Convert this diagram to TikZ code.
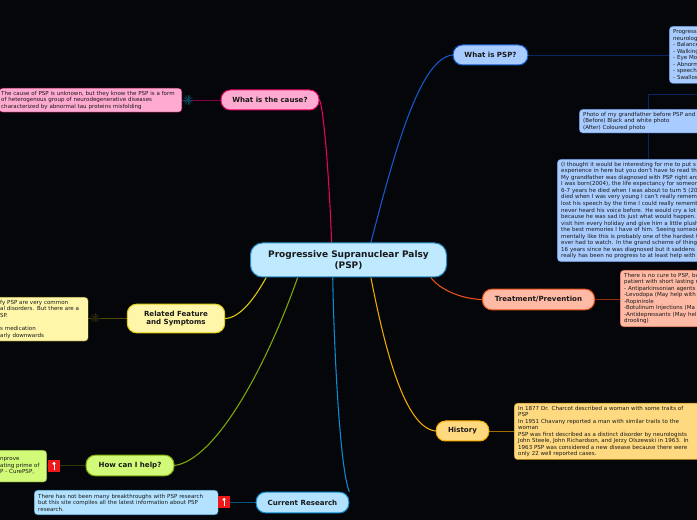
\documentclass[tikz,border=0pt]{standalone}
\usepackage{fontspec}
\setmainfont{DejaVu Sans}
\usetikzlibrary{backgrounds}

\tikzset{
  topic/.style={draw, line width=0.75pt, rounded corners=7pt, inner sep=0pt, align=center, text=black!90, font=\fontsize{5.3}{6.4}\selectfont\bfseries},
  note/.style={draw, line width=0.3pt, rounded corners=2.5pt, anchor=north west, inner xsep=3pt, inner ysep=2pt, align=left, text=black!90, font=\fontsize{4.15}{4.9}\selectfont},
  link/.style={line width=0.8pt},
  stub/.style={line width=0.7pt},
  flagmark/.style={fill=flagred, minimum size=8.5pt, inner sep=0pt},
  burst/.style={minimum size=7pt, inner sep=0pt}
}

\begin{document}
\begin{tikzpicture}[x=0.75pt, y=-0.75pt]
  % Define colors
  \definecolor{nightbg}{RGB}{4,6,9}
  \definecolor{flagred}{RGB}{240,25,25}
  \definecolor{skyfill}{RGB}{190,233,255}
  \definecolor{skyline}{RGB}{42,140,200}
  \definecolor{bluefill}{RGB}{168,204,255}
  \definecolor{blueline}{RGB}{20,90,205}
  \definecolor{bluedark}{RGB}{8,38,100}
  \definecolor{pinkfill}{RGB}{255,170,208}
  \definecolor{pinkline}{RGB}{235,0,100}
  \definecolor{pinkdark}{RGB}{135,0,65}
  \definecolor{salmonfill}{RGB}{255,186,165}
  \definecolor{salmonline}{RGB}{235,80,30}
  \definecolor{salmondark}{RGB}{150,45,15}
  \definecolor{goldfill}{RGB}{255,217,128}
  \definecolor{goldline}{RGB}{245,170,0}
  \definecolor{golddark}{RGB}{160,110,0}
  \definecolor{creamfill}{RGB}{255,246,170}
  \definecolor{creamline}{RGB}{225,205,20}
  \definecolor{creamdark}{RGB}{85,75,5}
  \definecolor{limefill}{RGB}{208,250,120}
  \definecolor{limeline}{RGB}{125,170,10}
  \definecolor{limedark}{RGB}{45,60,5}
  \definecolor{icefill}{RGB}{178,226,255}
  \definecolor{iceline}{RGB}{10,140,210}
  \definecolor{icedark}{RGB}{8,85,125}
  \definecolor{burstteal}{RGB}{12,72,95}
  \definecolor{burstolive}{RGB}{45,40,8}

  \useasboundingbox (0,0) rectangle (697,520);
  \clip (0,0) rectangle (697,520);

  % Central topic
  \node[topic, draw=skyline, fill=skyfill, minimum width=147pt, minimum height=25.5pt, rounded corners=9pt, font=\fontsize{6.75}{8}\selectfont\bfseries] (central) at (348.5,260) {Progressive Supranuclear Palsy\\(PSP)};

  % What is PSP?
  \node[topic, draw=blueline, fill=bluefill, minimum width=56pt, minimum height=15pt] (whatpsp) at (490.5,55) {What is PSP?};
  \node[note, draw=bluedark, fill=bluefill, text width=150pt, minimum height=43pt] (pspnote) at (669,26) {Progressive Supranuclear Palsy is a\\neurological disorder\\- Balance\\- Walking\\- Eye Movement\\- Abnormal\\- speech\\- Swallowing};
  \node[note, draw=bluedark, fill=bluefill, text width=150pt, minimum height=18pt] (photonote) at (579,109) {Photo of my grandfather before PSP and\\(Before) Black and white photo\\(After) Coloured photo};
  \node[note, draw=bluedark, fill=bluefill, text width=150pt, minimum height=77pt] (storynote) at (557,159) {(I thought it would be interesting for me to put s\\experience in here but you don't have to read thi\\My grandfather was diagnosed with PSP right aro\\I was born(2004), the life expectancy for someor\\6-7 years he died when I was about to turn 5 (20\\died when I was very young I can't really remem\\lost his speech by the time I could really rememb\\never heard his voice before. He would cry a lot a\\because he was sad its just what would happen.\\visit him every holiday and give him a little plush\\the best memories I have of him. Seeing someon\\mentally like this is probably one of the hardest t\\ever had to watch. In the grand scheme of things\\16 years since he was diagnosed but it saddens r\\really has been no progress to at least help with};
  \coordinate (photoend) at (697,94);
  \coordinate (bracket) at (648,94);

  % What is the cause?
  \node[topic, draw=pinkline, fill=pinkfill, minimum width=73.5pt, minimum height=15pt] (cause) at (270,100) {What is the cause?};
  \node[note, draw=pinkdark, fill=pinkfill, text width=134pt, minimum height=18pt, inner xsep=1.5pt] (causenote) at (-1,88) {The cause of PSP is unknown, but they know the PSP is a form\\of heterogenous group of neurodegenerative diseases\\characterized by abnormal tau proteins misfolding};
  \node[burst] (causeburst) at (188,100) {};

  % Treatment/Prevention
  \node[topic, draw=salmonline, fill=salmonfill, minimum width=84pt, minimum height=15.5pt] (treatment) at (538.5,299.5) {Treatment/Prevention};
  \node[note, draw=salmondark, fill=salmonfill, text width=150pt, minimum height=42.5pt] (treatnote) at (620,270) {There is no cure to PSP, bu\\patient with short lasting r\\- Antiparkinsonian agents\\-Levodopa (May help with\\-Ropinirole\\-Botulinum Injections (Ma\\-Antidepressants (May hel\\drooling)};

  % History
  \node[topic, draw=goldline, fill=goldfill, minimum width=39.5pt, minimum height=15pt] (history) at (462.5,431) {History};
  \node[note, draw=golddark, fill=goldfill, text width=150pt, minimum height=42pt] (historynote) at (514,403) {In 1877 Dr. Charcot described a woman with some traits of\\PSP\\In 1951 Chavany reported a man with similar traits to the\\woman\\PSP was first described as a  distinct disorder by neurologists\\John Steele, John Richardson, and Jerzy Olszewski in 1963. In\\1963 PSP was considered a new disease because there were\\only 22 well reported cases.};

  % Related Feature and Symptoms
  \node[topic, draw=creamline, fill=creamfill, minimum width=73pt, minimum height=21.5pt] (related) at (176,318.5) {Related Feature\\and Symptoms};
  \node[note, draw=creamdark, fill=creamfill, text width=63pt, minimum height=33pt] (relatednote) at (-4,297) {fy PSP are very common\\al disorders. But there are a\\SP.\\~\\s medication\\arly downwards};
  \node[burst] (relatedburst) at (95,318) {};

  % How can I help?
  \node[topic, draw=limeline, fill=limefill, minimum width=66pt, minimum height=15.5pt] (help) at (130,465.5) {How can I help?};
  \node[note, draw=limedark, fill=limefill, text width=32pt, minimum height=24pt] (helpnote) at (-4,450) {nprove\\ating prime of\\P - CurePSP,};
  \node[flagmark] (helpflag) at (54,466) {};

  % Current Research
  \node[topic, draw=iceline, fill=icefill, minimum width=69.5pt, minimum height=15.5pt] (research) at (302.5,502.5) {Current Research};
  \node[note, draw=icedark, fill=icefill, text width=132pt, minimum height=18.5pt] (researchnote) at (34,490) {There has not been many breakthroughs with PSP research\\but this site compiles all the latest information about PSP\\research.};
  \node[flagmark] (researchflag) at (224,502) {};

  % Marks on the stubs
  \foreach \flag in {helpflag, researchflag} {
    \draw[white, line width=0.6pt] (\flag.north) ++(0,2) -- ++(0,8);
    \fill[white] (\flag.center) ++(0,-2.5) circle (1.7);
  }
  \foreach \a in {0, 30, ..., 330} {
    \draw[burstteal, line width=0.5pt] (causeburst.center) -- ++(\a:5);
    \draw[burstolive, line width=0.5pt] (relatedburst.center) -- ++(\a:4.5);
  }

  % Connectors behind the boxes
  \begin{scope}[on background layer]
    \fill[nightbg] (0,0) rectangle (697,520);
    \draw[link, blueline] (central.38) .. controls (395,150) and (420,58) .. (whatpsp.west);
    \draw[link, pinkline] (cause.east) .. controls (323,105) and (329,170) .. (central.134);
    \draw[link, salmonline] (central.-12) .. controls (440,290) and (462,299) .. (treatment.west);
    \draw[link, goldline] (central.-38) .. controls (385,350) and (405,428) .. (history.west);
    \draw[link, creamline] (central.-168) .. controls (255,298) and (240,318) .. (related.east);
    \draw[link, limeline] (central.-161) .. controls (265,370) and (215,460) .. (help.east);
    \draw[link, iceline] (central.-132) .. controls (334,350) and (340,470) .. (research.13.5);
    \draw[stub, bluedark] (whatpsp.east) -- (whatpsp.east -| pspnote.west);
    \draw[stub, bluedark] (photoend) -- (bracket) -- (bracket |- storynote.north);
    \draw[stub, pinkdark] (cause.west) -- (cause.west -| causenote.east);
    \draw[stub, salmondark] (treatment.east) -- (treatment.east -| treatnote.west);
    \draw[stub, golddark] (history.east) -- (history.east -| historynote.west);
    \draw[stub, creamdark] (related.west) -- (related.west -| relatednote.east);
    \draw[stub, limedark] (help.west) -- (help.west -| helpnote.east);
    \draw[stub, icedark] (research.west) -- (research.west -| researchnote.east);
  \end{scope}
\end{tikzpicture}
\end{document}
